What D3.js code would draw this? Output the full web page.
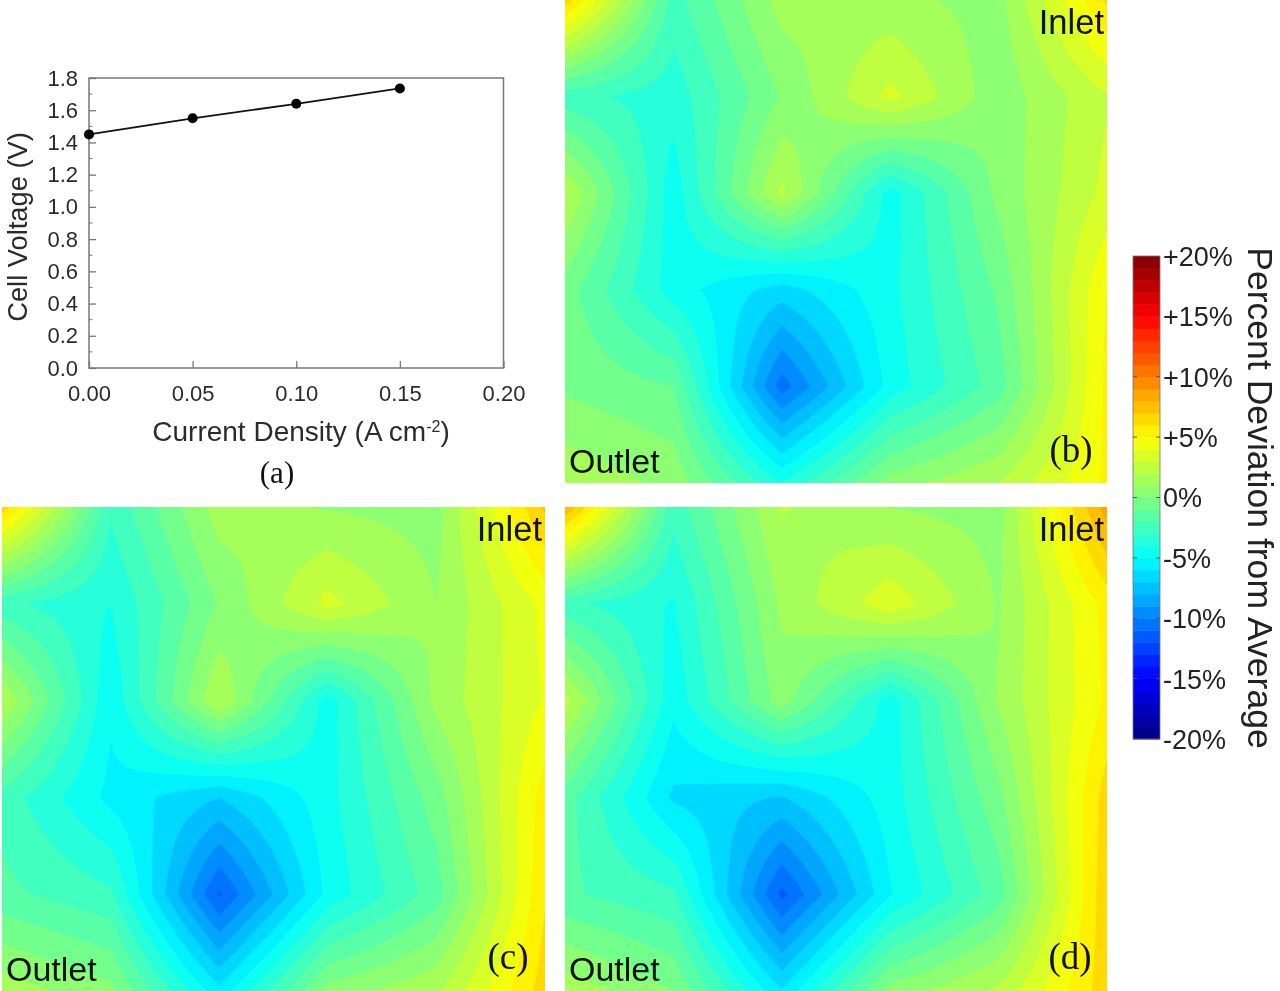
<!DOCTYPE html>
<html>
<head>
<meta charset="utf-8">
<script src="https://cdn.jsdelivr.net/npm/d3@7"></script>
<style>
  body { margin: 0; background: #fff; }
  svg { display: block; filter: blur(0.6px); }
  text { font-family: "Liberation Sans", Arial, sans-serif; }
  .serif { font-family: "Liberation Serif", "Times New Roman", serif; }
</style>
</head>
<body>
<svg id="chart" width="1280" height="991"></svg>
<script>
// polarization curve, panel (a)
const currentDensity = [0, 0.05, 0.10, 0.15]
const cellVoltage = [1.45, 1.55, 1.64, 1.735]
const voltageTicks = [0, 0.2, 0.4, 0.6, 0.8, 1.0, 1.2, 1.4, 1.6, 1.8]
const voltageMinorTicks = [0.1, 0.3, 0.5, 0.7, 0.9, 1.1, 1.3, 1.5, 1.7]
const currentTicks = [0, 0.05, 0.10, 0.15, 0.20]

// percent deviation at the 6x6 measuring segments, top row first
const gridB = [
  [ 6.6, -2.4,  1.4,  1.3,  0.6,  6.2],
  [-2.6, -3.6,  0.1,  3.3,  0.35, 2.9],
  [ 2.1, -4.6,  2.25,-4.5,  0.3,  3.3],
  [-0.5, -4.5, -6.5, -4.3, -0.8,  5.0],
  [-0.2, -1.0,-10.55,-4.6, -1.5,  5.3],
  [ 1.8,  0.7, -4.0,  0.5,  2.0,  5.2]
]
const gridC = [
  [ 6.6, -2.8,  1.5,  0.9,  0.6,  7.2],
  [-2.7, -4.0,  0.1,  3.35, 1.0,  4.3],
  [ 2.0, -4.8,  1.95,-4.5,  1.3,  4.1],
  [-2.4, -5.3, -7.0, -4.4, -0.5,  5.5],
  [-1.7, -2.8,-11.2, -4.7, -1.5,  5.9],
  [ 1.6,  0.3, -5.7,  0.4,  1.8,  6.5]
]
const gridD = [
  [ 8.0, -2.6,  2.1,  0.95, 0.6,  8.5],
  [-2.7, -4.1,  1.2,  3.7,  0.9,  5.4],
  [ 2.4, -4.7,  0.5, -4.5,  1.1,  5.2],
  [-1.5, -6.2, -7.1, -4.5, -0.3,  6.5],
  [-1.8, -2.8,-11.3, -5.1, -1.5,  6.8],
  [ 1.7,  0.0, -5.9,  0.4,  2.2,  6.6]
]

const colorStops = [-20, -15, -5, 5, 15, 20]
const colorValues = ["#000080", "#0000ff", "#00ffff", "#ffff00", "#ff0000", "#800000"]
const legendTicks = [20, 15, 10, 5, 0, -5, -10, -15, -20]
const levelStep = 1
const levels = d3.range(-20, 20, levelStep)

const svg = d3.select("#chart")
const jet = d3.scaleLinear().domain(colorStops).range(colorValues).interpolate(d3.interpolateRgb)

// --- panel (a) ---
const xA = d3.scaleLinear().domain([0, 0.2]).range([89, 503.5])
const yA = d3.scaleLinear().domain([0, 1.8]).range([368, 78])
const axisColor = "#777"
const labelColor = "#2b2b2b"

const panelA = svg.append("g")
panelA.append("rect")
  .attr("x", xA(0)).attr("y", yA(1.8))
  .attr("width", xA(0.2) - xA(0)).attr("height", yA(0) - yA(1.8))
  .attr("fill", "none").attr("stroke", axisColor).attr("stroke-width", 1.5)

const bottomAxis = panelA.append("g")
  .attr("transform", `translate(0,${yA(0)})`)
  .call(d3.axisBottom(xA).tickValues(currentTicks).tickFormat(d3.format(".2f")).tickSizeInner(-7).tickSizeOuter(0).tickPadding(17))
const leftAxis = panelA.append("g")
  .attr("transform", `translate(${xA(0)},0)`)
  .call(d3.axisLeft(yA).tickValues(voltageTicks).tickFormat(d3.format(".1f")).tickSizeInner(-7).tickSizeOuter(0).tickPadding(11))
panelA.append("g")
  .attr("transform", `translate(${xA(0)},0)`)
  .selectAll("line").data(voltageMinorTicks).enter().append("line")
  .attr("x1", 0).attr("x2", 3.5)
  .attr("y1", d => yA(d)).attr("y2", d => yA(d))
  .attr("stroke", axisColor).attr("stroke-width", 1)

for (const ax of [bottomAxis, leftAxis]) {
  ax.select(".domain").remove()
  ax.selectAll("line").attr("stroke", axisColor).attr("stroke-width", 1.3)
  ax.selectAll("text").attr("fill", labelColor).style("font-size", "22px").style("font-family", '"Liberation Sans", Arial, sans-serif')
}

const voltageLine = d3.line().x((d, i) => xA(currentDensity[i])).y(d => yA(d))
panelA.append("path")
  .attr("d", voltageLine(cellVoltage))
  .attr("fill", "none").attr("stroke", "#111").attr("stroke-width", 1.8)
panelA.selectAll("circle").data(cellVoltage).enter().append("circle")
  .attr("cx", (d, i) => xA(currentDensity[i])).attr("cy", d => yA(d))
  .attr("r", 5).attr("fill", "#000")

const xTitle = panelA.append("text")
  .attr("x", 301).attr("y", 441).attr("text-anchor", "middle")
  .attr("fill", labelColor).style("font-size", "28px")
xTitle.append("tspan").text("Current Density (A cm")
xTitle.append("tspan").attr("dy", -9).style("font-size", "16px").text("-2")
xTitle.append("tspan").attr("dy", 9).text(")")

panelA.append("text")
  .attr("transform", "translate(27,227) rotate(-90)")
  .attr("text-anchor", "middle").attr("fill", labelColor)
  .style("font-size", "27.3px").text("Cell Voltage (V)")

panelA.append("text").attr("class", "serif")
  .attr("x", 277).attr("y", 483).attr("text-anchor", "middle")
  .attr("fill", "#111").style("font-size", "31px").text("(a)")

// --- contour panels ---
// the plotted field is bilinear between segments, sample it finely so the contours curve the same way
const sub = 24
function sampleGrid(grid) {
  const rows = grid.length, cols = grid[0].length
  const n = (cols - 1) * sub + 1, m = (rows - 1) * sub + 1
  const out = new Float64Array(n * m)
  for (let j = 0; j < m; j++) {
    const r = Math.min(Math.floor(j / sub), rows - 2), v = j / sub - r
    for (let i = 0; i < n; i++) {
      const c = Math.min(Math.floor(i / sub), cols - 2), u = i / sub - c
      out[j * n + i] = (1 - v) * ((1 - u) * grid[r][c] + u * grid[r][c + 1])
        + v * ((1 - u) * grid[r + 1][c] + u * grid[r + 1][c + 1])
    }
  }
  return { values: out, n, m }
}

function drawPanel(id, grid, box, tag, tagX, tagY) {
  const g = svg.append("g")
  const clipId = "clip-" + id
  svg.append("clipPath").attr("id", clipId).append("rect")
    .attr("x", box.x0).attr("y", box.y0)
    .attr("width", box.x1 - box.x0).attr("height", box.y1 - box.y0)

  const s = sampleGrid(grid)
  const px = d3.scaleLinear().domain([0.5, s.n - 0.5]).range([box.x0, box.x1])
  const py = d3.scaleLinear().domain([0.5, s.m - 0.5]).range([box.y0, box.y1])
  const project = d3.geoTransform({
    point(x, y) { this.stream.point(px(x), py(y)) }
  })
  const path = d3.geoPath(project)
  const contours = d3.contours().size([s.n, s.m]).thresholds(levels).smooth(true)(s.values)

  g.append("g").attr("clip-path", `url(#${clipId})`)
    .selectAll("path").data(contours).enter().append("path")
    .attr("d", path)
    .attr("fill", d => jet(d.value + levelStep / 2))
    .attr("stroke", d => jet(d.value + levelStep / 2))
    .attr("stroke-width", 0.4)

  g.append("text").attr("x", box.x1 - 3).attr("y", box.y0 + 34).attr("text-anchor", "end")
    .attr("fill", "#111").style("font-size", "34.5px").text("Inlet")
  g.append("text").attr("x", box.x0 + 4).attr("y", box.y1 - 10)
    .attr("fill", "#111").style("font-size", "34px").text("Outlet")
  g.append("text").attr("class", "serif").attr("x", tagX).attr("y", tagY).attr("text-anchor", "middle")
    .attr("fill", "#111").style("font-size", "37px").text(tag)
}

drawPanel("b", gridB, { x0: 565, x1: 1107, y0: 0, y1: 483 }, "(b)", 1071, 462)
drawPanel("c", gridC, { x0: 2, x1: 545, y0: 507, y1: 991 }, "(c)", 508, 969)
drawPanel("d", gridD, { x0: 565, x1: 1107, y0: 507, y1: 991 }, "(d)", 1070, 969)

// --- colour legend ---
const yLegend = d3.scaleLinear().domain([-20, 20]).range([739, 256])
const legend = svg.append("g")
legend.selectAll("rect").data(levels).enter().append("rect")
  .attr("x", 1133).attr("width", 27)
  .attr("y", d => yLegend(d + levelStep)).attr("height", d => yLegend(d) - yLegend(d + levelStep) + 0.5)
  .attr("fill", d => jet(d + levelStep / 2))
legend.append("rect")
  .attr("x", 1133).attr("y", 256).attr("width", 27).attr("height", 483)
  .attr("fill", "none").attr("stroke", "#777").attr("stroke-width", 0.8)

// small ticks on both sides of the bar
legend.selectAll("line.inner").data(legendTicks.slice(1, -1)).enter().append("line")
  .attr("class", "inner")
  .attr("x1", 1133).attr("x2", 1137)
  .attr("y1", d => yLegend(d)).attr("y2", d => yLegend(d))
  .attr("stroke", "#555").attr("stroke-width", 1)
legend.selectAll("line.outer").data(legendTicks.slice(1, -1)).enter().append("line")
  .attr("class", "outer")
  .attr("x1", 1156).attr("x2", 1160)
  .attr("y1", d => yLegend(d)).attr("y2", d => yLegend(d))
  .attr("stroke", "#555").attr("stroke-width", 1)

const legendAxis = legend.append("g")
  .attr("transform", "translate(1160,0)")
  .call(d3.axisRight(yLegend).tickValues(legendTicks)
    .tickFormat(d => d > 0 ? `+${d}%` : `${d}%`)
    .tickSizeInner(0).tickSizeOuter(0).tickPadding(3))
legendAxis.select(".domain").remove()
legendAxis.selectAll("text").attr("fill", "#222").attr("dy", "0.35em").style("font-size", "27px").style("font-family", '"Liberation Sans", Arial, sans-serif')

svg.append("text")
  .attr("transform", "translate(1247.5,498) rotate(90)")
  .attr("text-anchor", "middle").attr("fill", "#222")
  .style("font-size", "35.6px").text("Percent Deviation from Average")
</script>
</body>
</html>
